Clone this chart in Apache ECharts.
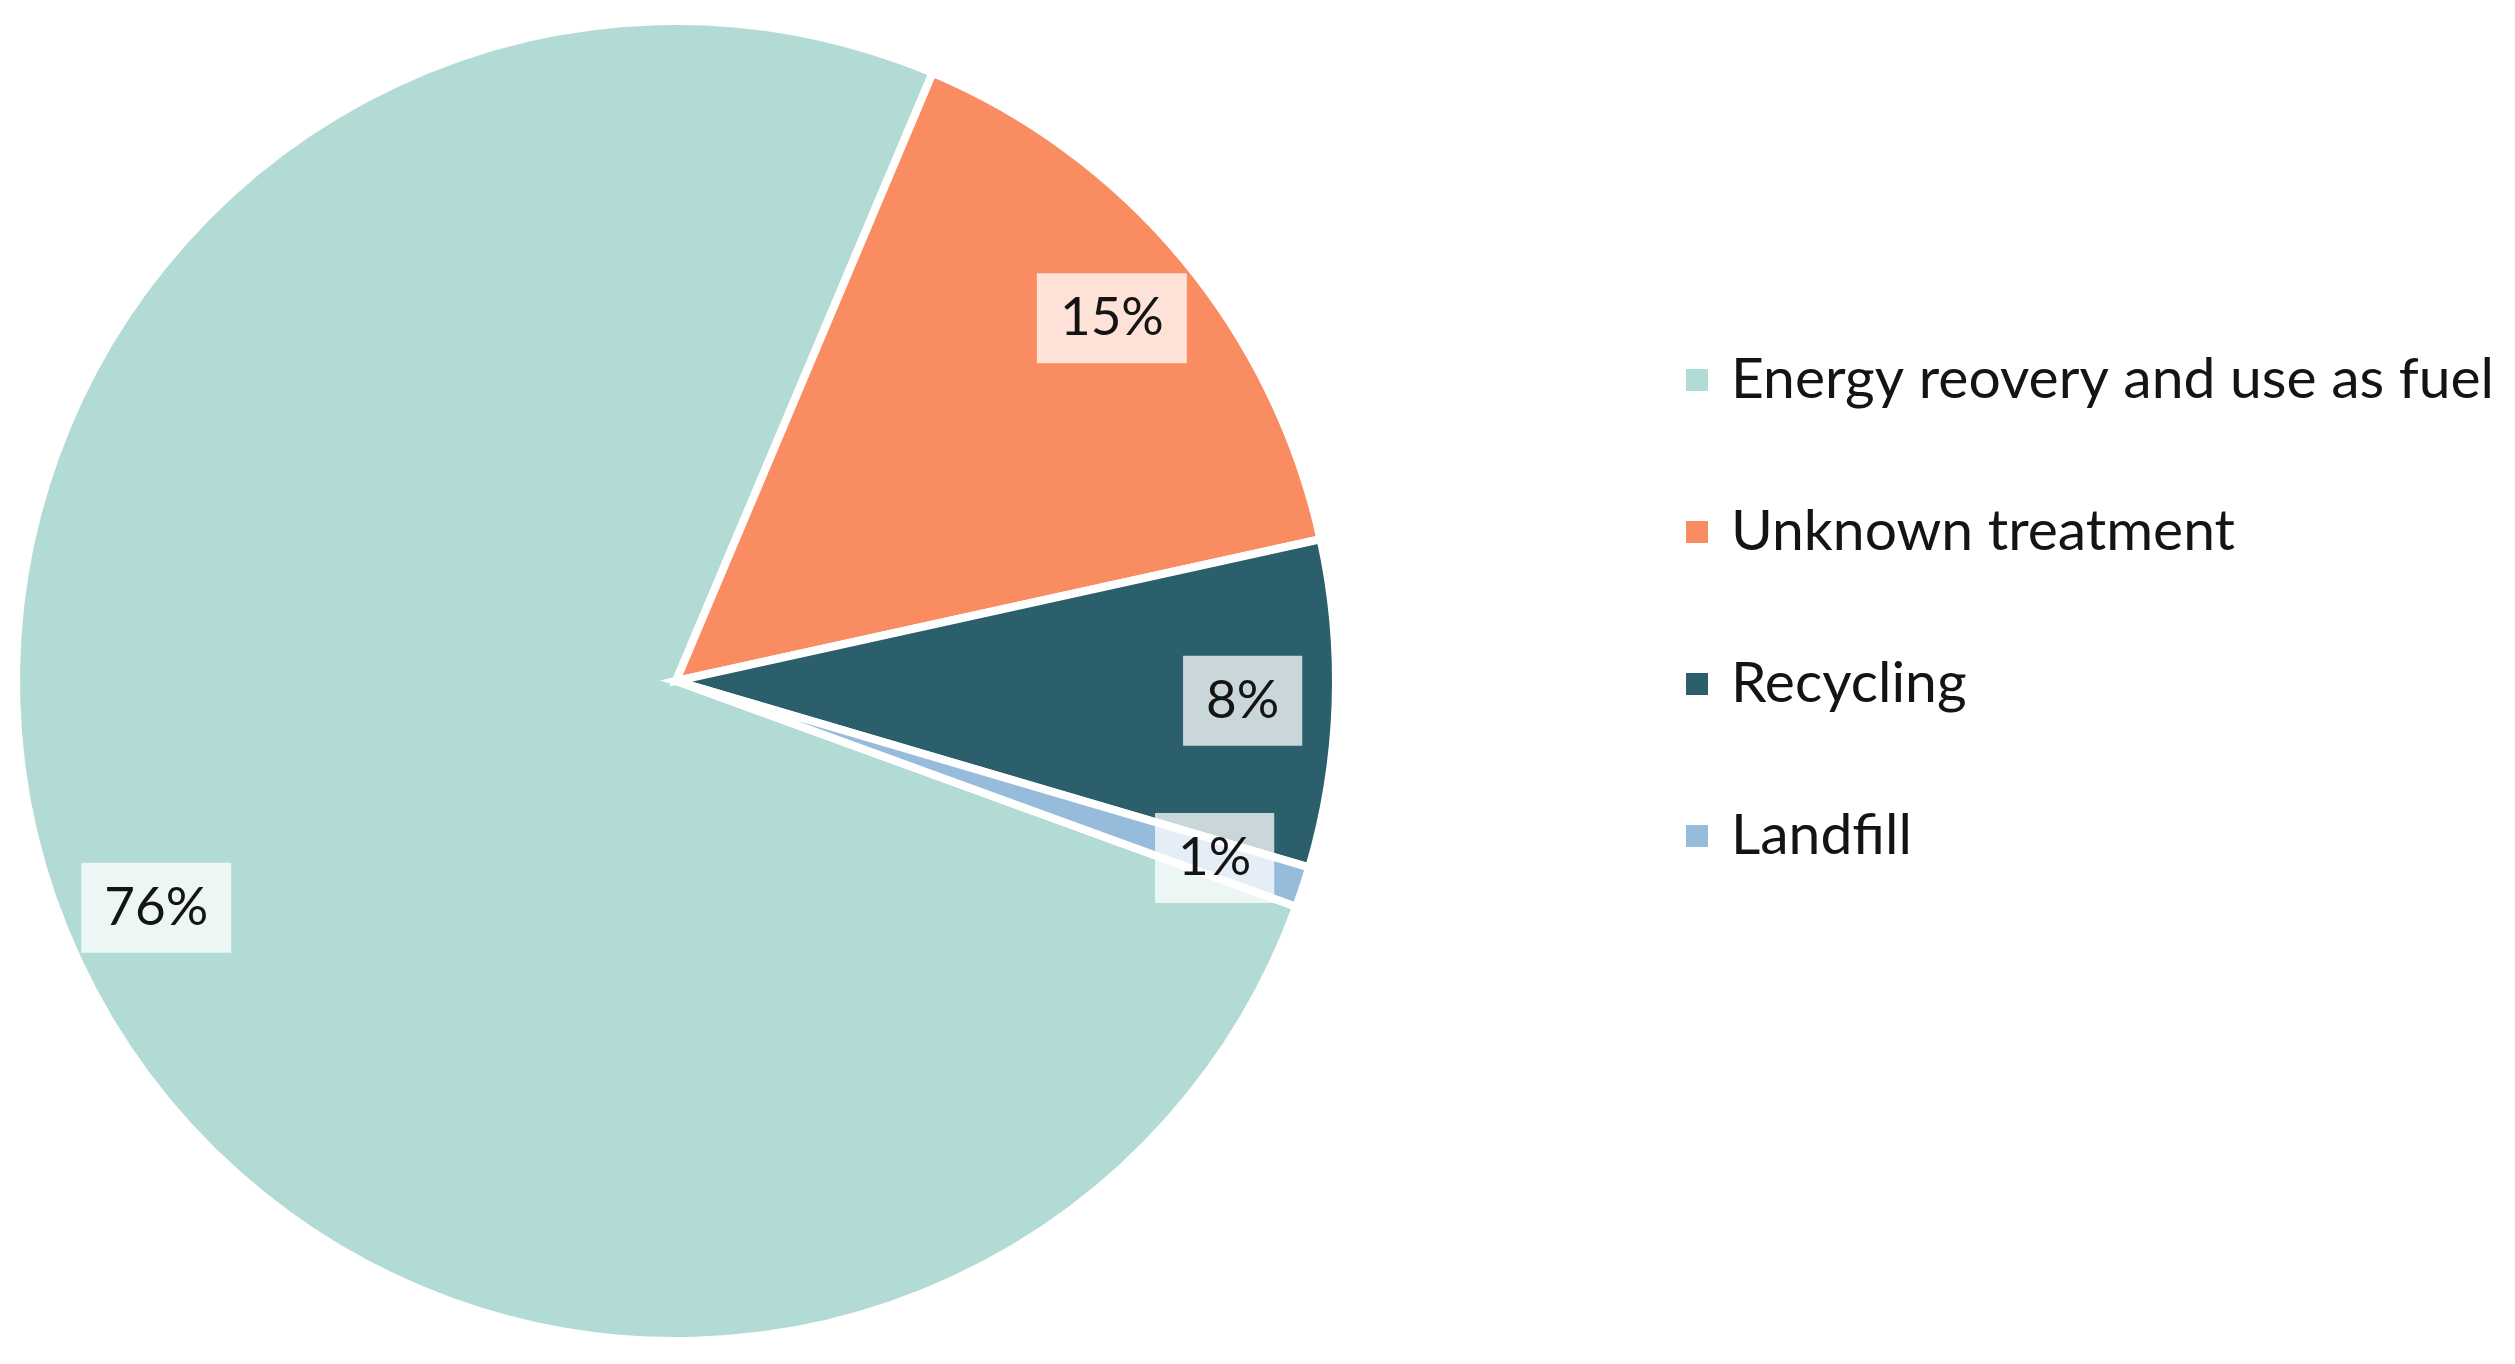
<!DOCTYPE html>
<html>
<head>
<meta charset="utf-8">
<script src="https://cdn.jsdelivr.net/npm/echarts@6/dist/echarts.min.js"></script>
<style>
html,body{margin:0;padding:0;background:#fff;}
#chart{width:2515px;height:1364px;}
</style>
</head>
<body>
<div id="chart"></div>
<script>
const categories = ['Energy reovery and use as fuel', 'Unknown treatment', 'Recycling', 'Landfill'];
const shares = [75.8, 15.2, 8.0, 1.0];
const colors = ['#B2DBD5', '#FA8C61', '#2A5F6B', '#97BCDB'];

const FONT = 'Lato';
const pieData = categories.map((c, i) => ({ name: c, value: shares[i], itemStyle: { color: colors[i] } }));

const chart = echarts.init(document.getElementById('chart'));
chart.setOption({
  animation: false,
  backgroundColor: '#ffffff',
  legend: {
    orient: 'vertical',
    left: 1684,
    top: 349,
    padding: 0,
    itemWidth: 24,
    itemHeight: 24,
    itemGap: 90,
    icon: 'rect',
    data: categories,
    textStyle: { fontFamily: FONT, fontSize: 57, color: '#141414', lineHeight: 62, padding: [0, 0, 0, 17] }
  },
  series: [
    {
      type: 'pie',
      center: [676, 681],
      radius: [0, 660],
      startAngle: -20,
      clockwise: true,
      avoidLabelOverlap: false,
      silent: true,
      label: { show: false },
      labelLine: { show: false },
      itemStyle: { borderColor: '#ffffff', borderWidth: 8, borderJoin: 'miter' },
      data: pieData
    },
    {
      type: 'pie',
      center: [676, 681],
      radius: [468, 660],
      startAngle: -20,
      clockwise: true,
      avoidLabelOverlap: false,
      silent: true,
      percentPrecision: 0,
      itemStyle: { color: 'rgba(0,0,0,0)', borderWidth: 0 },
      labelLine: { show: false },
      label: {
        show: true,
        position: 'inside',
        formatter: '{d}%',
        fontFamily: FONT,
        fontSize: 53,
        lineHeight: 64,
        color: '#141414',
        backgroundColor: 'rgba(255,255,255,0.75)',
        padding: [14, 23, 12, 23]
      },
      data: categories.map((c, i) => ({ name: c, value: shares[i] }))
    }
  ]
});
</script>
</body>
</html>
